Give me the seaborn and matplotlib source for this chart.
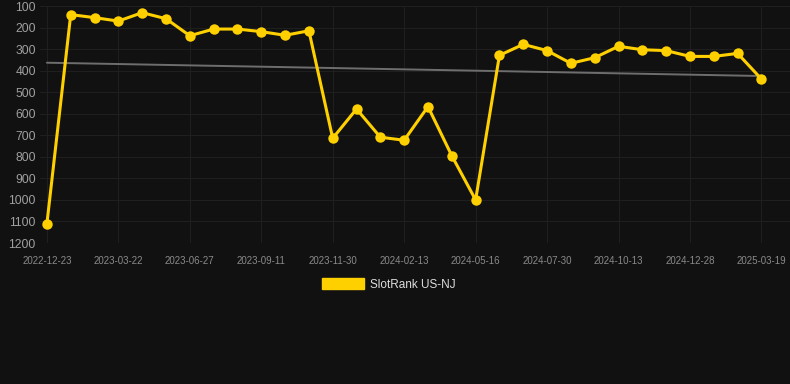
import numpy as np
import pandas as pd
import matplotlib
matplotlib.use("Agg")
import matplotlib.pyplot as plt
import seaborn as sns
from matplotlib.patches import Patch

# data
dates = ["2022-12-23", "2023-01-21", "2023-02-20", "2023-03-22", "2023-04-23",
         "2023-05-25", "2023-06-27", "2023-07-22", "2023-08-17", "2023-09-11",
         "2023-10-08", "2023-11-03", "2023-11-30", "2023-12-25", "2024-01-19",
         "2024-02-13", "2024-03-14", "2024-04-15", "2024-05-16", "2024-06-10",
         "2024-07-05", "2024-07-30", "2024-08-24", "2024-09-18", "2024-10-13",
         "2024-11-07", "2024-12-03", "2024-12-28", "2025-01-23", "2025-02-21",
         "2025-03-19"]
rank = [1110, 140, 154, 170, 131, 159, 238, 207, 207, 219, 236, 215,
        714, 578, 709, 723, 567, 795, 1000,
        329, 278, 307, 366, 340, 287, 303, 307, 334, 334, 320, 439]
series_name = "SlotRank US-NJ"

df = pd.DataFrame({"idx": np.arange(len(dates)), "date": dates, "rank": rank})

bg = "#111111"
grid = "#1f1f1f"
yellow = "#FFD000"

sns.set_style("dark")
plt.rcParams["font.family"] = ["Liberation Sans", "DejaVu Sans"]

fig = plt.figure(figsize=(7.9, 3.84), dpi=100, facecolor=bg)
ax = fig.add_axes([40 / 790, 1 - 243 / 384, 750 / 790, 237 / 384])
ax.set_facecolor(bg)

# trend line
sns.regplot(data=df, x="idx", y="rank", scatter=False, ci=None, ax=ax,
            line_kws={"color": "#6e6e6e", "linewidth": 1.4, "zorder": 2})

sns.lineplot(data=df, x="idx", y="rank", ax=ax, color=yellow, linewidth=2.2,
             marker="o", markersize=7.5, markeredgewidth=0, zorder=3)

ax.set_ylim(1200, 100)
ax.set_yticks(range(100, 1201, 100))
ax.set_xlim(-0.29, 31.2)
ax.set_xticks(df["idx"][::3])
ax.set_xticklabels(df["date"][::3])

ax.grid(True, color=grid, linewidth=0.8)
ax.tick_params(axis="y", colors="#a0a0a0", labelsize=8.7, length=0, pad=3)
ax.tick_params(axis="x", colors="#8a8a8a", labelsize=7, length=0, pad=9)
for s in ax.spines.values():
    s.set_visible(False)
ax.set_xlabel("")
ax.set_ylabel("")

fig.legend(handles=[Patch(facecolor=yellow, edgecolor=yellow, label=series_name)],
           loc="center", bbox_to_anchor=(0.492, 0.259), frameon=False,
           handlelength=3.6, handleheight=1.0, handletextpad=0.5,
           labelcolor="#dddddd", fontsize=8.5)

fig.savefig("out.png", dpi=100, facecolor=bg)
